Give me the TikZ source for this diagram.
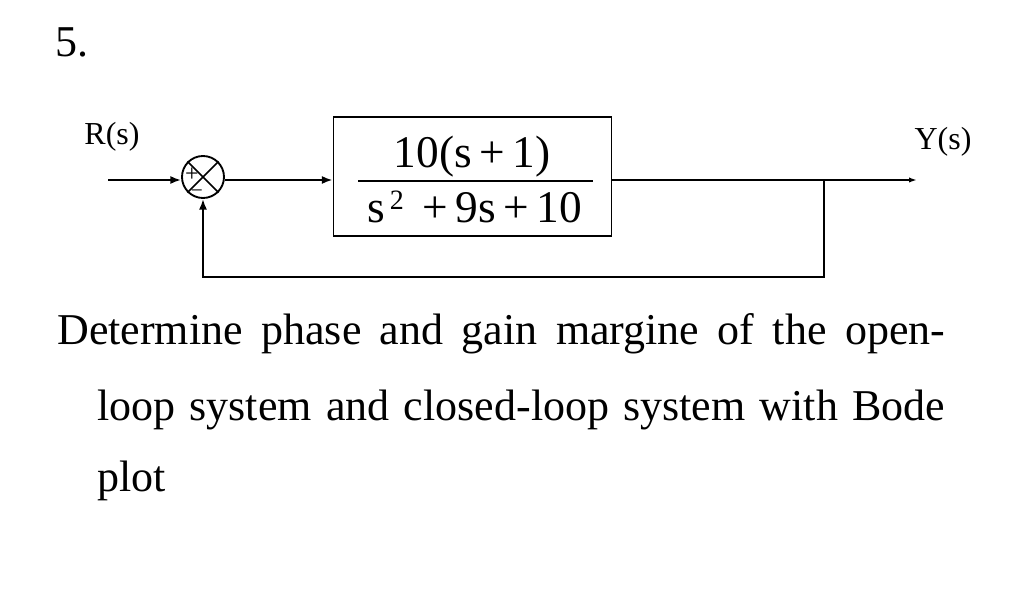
\documentclass[tikz,border=0pt]{standalone}
\usepackage{fontspec}
\setmainfont{Liberation Serif}
\usetikzlibrary{arrows.meta}
\begin{document}
\begin{tikzpicture}[x=0.75pt,y=-0.75pt,
  sig/.style={line width=1.4pt,-{Latex[length=8pt,width=6pt]}},
  ln/.style={line width=1.4pt},
  lbl/.style={inner sep=0pt,font=\fontsize{24}{26}\selectfont},
  body/.style={inner sep=0pt,anchor=base west,font=\fontsize{33}{36}\selectfont}]
\useasboundingbox (0,0) rectangle (1026,605);
\node[body] (num5) at (55,57) {5.};
\node[lbl] (R) at (112,137) {R(s)};
\node[lbl] (Y) at (943,142) {Y(s)};
\coordinate (in) at (108,180);
\node[draw,circle,line width=1.4pt,minimum size=31.5pt,inner sep=0pt] (sum) at (203,177) {};
\draw[line width=1.1pt] (sum.north west) -- (sum.south east) (sum.north east) -- (sum.south west);
\node[inner sep=0pt,font=\fontsize{18}{18}\selectfont] (plus) at (192,175) {+};
\node[inner sep=0pt,font=\fontsize{16}{16}\selectfont] (minus) at (197,194) {\textminus};
\node[draw,line width=1.4pt,minimum width=208.5pt,minimum height=89pt,inner sep=0pt] (G) at (472.5,176.5) {};
\node[inner sep=0pt,font=\fontsize{34}{36}\selectfont] (numer) at (472,157) {10(s\,+\,1)};
\node[inner sep=0pt,font=\fontsize{34}{36}\selectfont] (denom) at (475,207) {s\raisebox{0.6ex}{\fontsize{21}{21}\selectfont\,2}\ \,+\,9s\,+\,10};
\draw[line width=1.1pt] (358,181) -- (593,181);
\coordinate (br) at (824,180);
\coordinate (out) at (917,180);
\coordinate (fb1) at (824,277);
\coordinate (fb2) at (203,277);
\draw[sig] (in) -- (sum.west |- in);
\draw[sig] (sum.east |- in) -- (G.west |- in);
\draw[ln] (G.east |- br) -- (br);
\draw[line width=1.4pt,-{Latex[length=6pt,width=4pt]}] (br) -- (out);
\draw[sig] (br) -- (fb1) -- (fb2) -- (sum.south);
\node[body] (l1) at (57,345) {\makebox[666pt][s]{Determine phase and gain margine of the open-}};
\node[body] (l2) at (97,421) {\makebox[636pt][s]{loop system and closed-loop system with Bode}};
\node[body] (l3) at (97,492) {plot};
\end{tikzpicture}
\end{document}
